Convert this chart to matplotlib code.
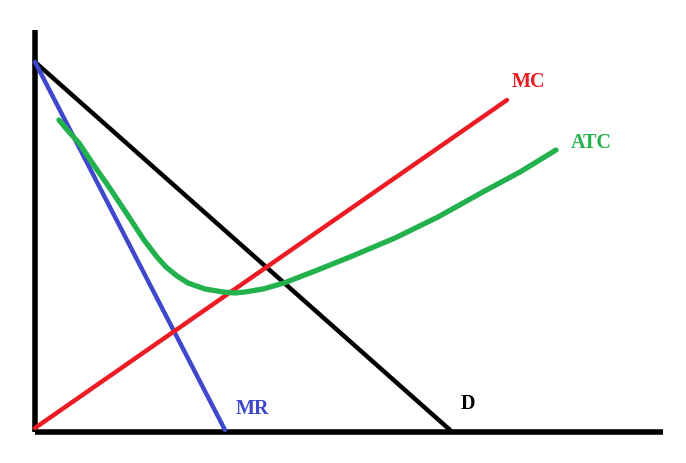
import matplotlib.pyplot as plt

# coordinates (origin at the corner of the axes)
d_x = [0, 415]
d_y = [370, 2]
mr_x = [0, 190]
mr_y = [370, 2]
mc_x = [0, 472]
mc_y = [4, 332]
atc_x = [24, 34, 44, 58, 74, 92, 109, 122, 131, 142, 153, 170, 188, 200, 210, 228, 249, 280,
         315, 360, 403, 446, 485, 521]
atc_y = [312, 300, 289, 268, 245, 218, 192, 175, 165, 156, 149, 143, 140, 139, 140, 143, 149, 161,
         175, 194, 215, 239, 260, 282]

labels = ["MC", "ATC", "MR", "D"]
label_pos = [(477, 350), (536, 289), (201, 23), (426, 28)]
label_col = ["#ED1C24", "#22B14C", "#3F48CC", "black"]

fig = plt.figure(figsize=(6.86, 4.63), dpi=100)
ax = fig.add_axes([0, 0, 1, 1])
ax.set_xlim(-35, 651)
ax.set_ylim(-31, 432)
ax.axis("off")

# axes drawn by hand
ax.plot([0, 0], [0, 402], color="black", lw=4, solid_capstyle="butt")
ax.plot([0, 628], [0, 0], color="black", lw=4, solid_capstyle="butt")

ax.plot(d_x, d_y, color="black", lw=3.2, solid_capstyle="round")
ax.plot(mr_x, mr_y, color="#3F48CC", lw=3.2, solid_capstyle="round")
ax.plot(mc_x, mc_y, color="#ED1C24", lw=3.2, solid_capstyle="round")
ax.plot(atc_x, atc_y, color="#22B14C", lw=3.8, solid_capstyle="round", solid_joinstyle="round")

for txt, (x, y), c in zip(labels, label_pos, label_col):
    ax.text(x, y, txt, color=c, fontsize=14.5, fontweight="bold",
            family="Liberation Serif", ha="left", va="center")

fig.savefig("out.png", dpi=100)
